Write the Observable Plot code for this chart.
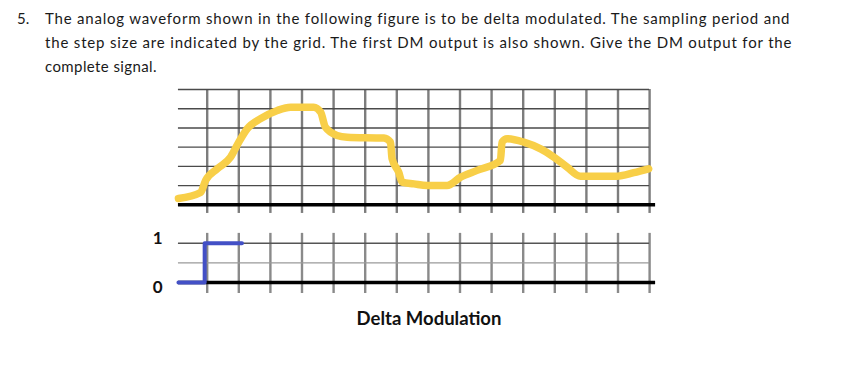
<!DOCTYPE html>
<html>
<head>
<meta charset="utf-8">
<script src="https://cdn.jsdelivr.net/npm/d3@7"></script>
<script src="https://cdn.jsdelivr.net/npm/@observablehq/plot@0.6"></script>
<style>
  html, body { margin: 0; padding: 0; background: #fff; }
  #page { position: relative; width: 853px; height: 373px; overflow: hidden; font-family: Lato, "Open Sans", sans-serif; color: #1a1a1a; }
  .line { position: absolute; white-space: nowrap; font-size: 15px; line-height: 20px; }
  #top, #bottom { position: absolute; left: 0; }
  #top { top: 80px; }
  #bottom { top: 220px; }
  #dmlabel { position: absolute; white-space: nowrap; font-weight: bold; font-size: 17px; line-height: 22px; color: #111; }
</style>
</head>
<body>
<div id="page">
  <div class="line" id="num" style="left:17px; top:8px;">5.</div>
  <div class="line" id="l1" style="left:45px; top:8px;"></div>
  <div class="line" id="l2" style="left:45px; top:32px;"></div>
  <div class="line" id="l3" style="left:45px; top:56px;"></div>
  <div id="top"></div>
  <div id="bottom"></div>
  <div id="dmlabel"></div>
</div>
<script>
// ---- text ----
const questionLines = [
  "The analog waveform shown in the following figure is to be delta modulated. The sampling period and",
  "the step size are indicated by the grid. The first DM output is also shown. Give the DM output for the",
  "complete signal."
];
const xLabel = "Delta Modulation";

// ---- grid (sampling instants and step levels) ----
const sampleTimes = [1, 2, 3, 4, 5, 6, 7, 8, 9, 10, 11, 12, 13, 14, 15];
const stepLevels = [1, 2, 3, 4, 5, 6];
const dmLevels = [0, 1];

// ---- analog waveform (time in sampling periods, amplitude in steps) ----
const waveT = [0.09, 0.79, 0.95, 1.32, 1.74, 2.0, 2.27, 2.69, 3.22, 3.64, 4.37, 4.59, 4.74, 5.11, 5.43, 6.59, 6.80, 6.85, 7.06, 7.17, 7.54, 7.96, 8.59, 9.02, 9.54, 10.28, 10.33, 10.49, 11.02, 11.55, 11.97, 12.39, 12.81, 13.97, 14.5, 14.97];
const waveV = [0.33, 0.64, 1.27, 1.875, 2.48, 3.26, 3.96, 4.48, 4.91, 5.08, 5.08, 4.82, 4.04, 3.61, 3.52, 3.47, 3.26, 2.40, 1.70, 1.18, 1.09, 1.0, 1.0, 1.44, 1.79, 2.31, 3.26, 3.44, 3.26, 2.91, 2.48, 1.96, 1.49, 1.49, 1.67, 1.875];

// ---- first DM output ----
const dmT = [0.09, 0.92, 2.1];
const dmBit = [0, 1, 1];

const wave = waveT.map((t, i) => ({t, v: waveV[i]}));
const dm = dmT.map((t, i) => ({t, b: dmBit[i]}));

const W = 853;
const mL = 175.1, mR = 203.9;

const topPlot = Plot.plot({
  width: W, height: 140,
  marginLeft: mL, marginRight: mR, marginTop: 9, marginBottom: 15.7,
  x: {domain: [0, 15], axis: null},
  y: {domain: [0, 6], axis: null},
  marks: [
    Plot.ruleX(sampleTimes, {y1: -0.45, y2: 6, stroke: "#7d7d7d", strokeWidth: 2.4}),
    Plot.ruleY(stepLevels, {x1: 0.09, x2: 15, stroke: "#4a4a4a", strokeWidth: 1.4}),
    Plot.line(wave, {x: "t", y: "v", curve: "monotone-x", stroke: "#f8cf48", strokeWidth: 7.5, strokeLinecap: "round", strokeLinejoin: "round"}),
    Plot.ruleY([0], {x1: 0.09, x2: 15.19, stroke: "#000", strokeWidth: 3.6})
  ]
});
document.getElementById("top").appendChild(topPlot);

const bottomPlot = Plot.plot({
  width: W, height: 80,
  marginLeft: mL, marginRight: mR, marginTop: 22.7, marginBottom: 18,
  x: {domain: [0, 15], axis: null},
  y: {domain: [0, 1], axis: null},
  style: {fontFamily: "Lato, sans-serif"},
  marks: [
    Plot.ruleX(sampleTimes, {y1: -0.28, y2: 1.25, stroke: "#8a8a8a", strokeWidth: 2.4}),
    Plot.ruleY([1], {x1: 0.09, x2: 15, stroke: "#555", strokeWidth: 1.4}),
    Plot.ruleY([0.5], {x1: 0.09, x2: 15, stroke: "#9a9a9a", strokeWidth: 1.3}),
    Plot.ruleY([0], {x1: 0.09, x2: 15.19, stroke: "#000", strokeWidth: 3.6}),
    Plot.axisY([dmLevels[1]], {label: null, tickSize: 0, tickPadding: 13, dy: -5, fontSize: 17, fontWeight: "bold", tickFormat: d => String(d), fill: "#111"}),
    Plot.axisY([dmLevels[0]], {label: null, tickSize: 0, tickPadding: 13, dy: 5, fontSize: 17, fontWeight: "bold", tickFormat: d => String(d), fill: "#111"}),
    Plot.line(dm, {x: "t", y: "b", curve: "step-after", stroke: "#4350c6", strokeWidth: 4})
  ]
});
document.getElementById("bottom").appendChild(bottomPlot);

// ---- text placement / fitting ----
const l1 = document.getElementById("l1"), l2 = document.getElementById("l2"), l3 = document.getElementById("l3");
l1.textContent = questionLines[0];
l2.textContent = questionLines[1];
l3.textContent = questionLines[2];
function fitSpacing(el, target) {
  const w = el.getBoundingClientRect().width;
  const n = el.textContent.length;
  el.style.letterSpacing = ((target - w) / n) + "px";
}
fitSpacing(l1, 745);
fitSpacing(l2, 747);
fitSpacing(l3, 112);

const dl = document.getElementById("dmlabel");
dl.textContent = xLabel;
{
  const w = dl.getBoundingClientRect().width;
  const fs = 17 * 145 / w;
  dl.style.fontSize = fs + "px";
  const w2 = dl.getBoundingClientRect().width;
  dl.style.left = (429 - w2 / 2) + "px";
  dl.style.top = (318 - 11) + "px";
}
</script>
</body>
</html>
